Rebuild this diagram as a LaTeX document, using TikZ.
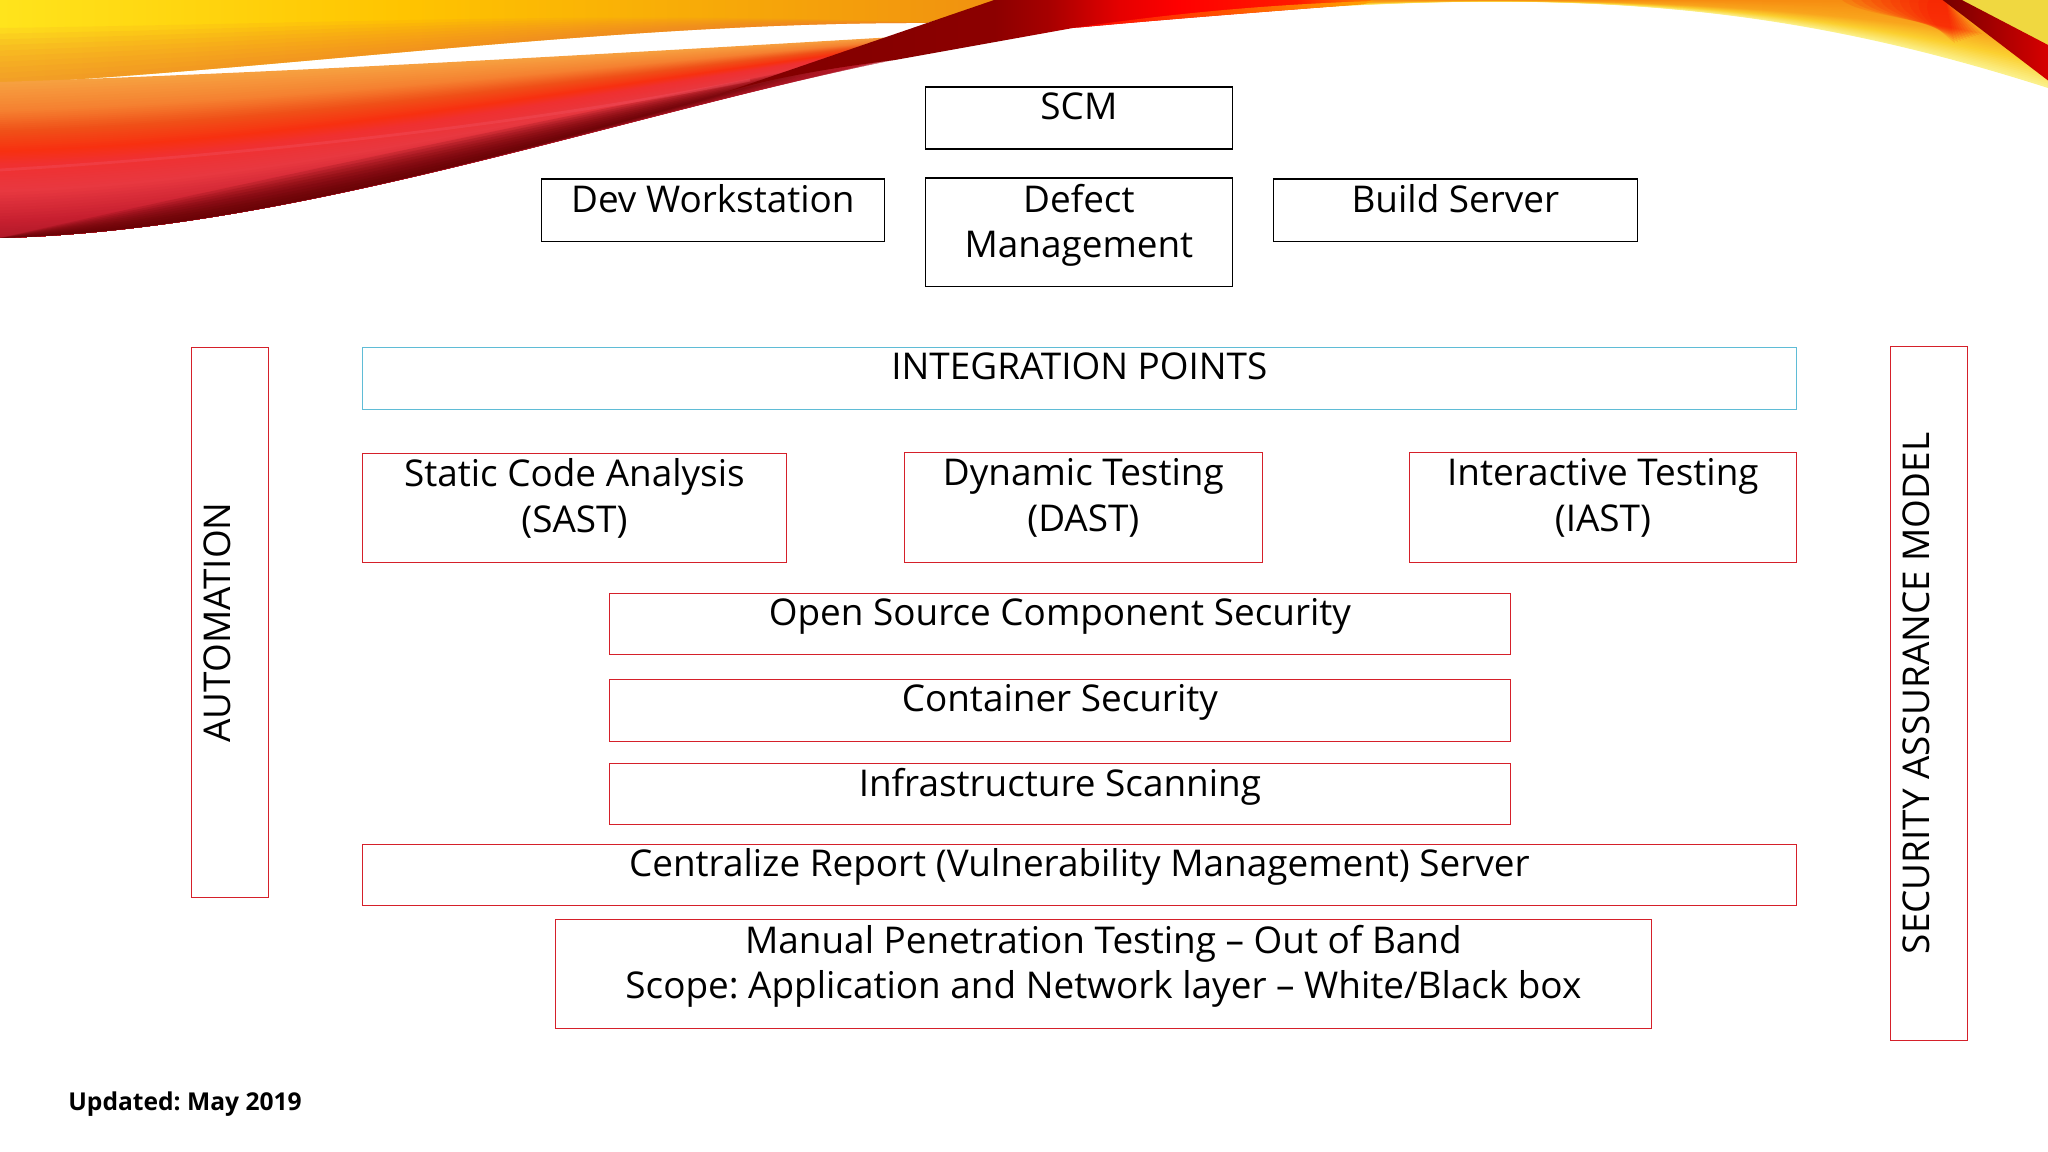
\documentclass[tikz,border=0pt]{standalone}
\usepackage{fontspec}
\setmainfont{Open Sans}
\frenchspacing
\usetikzlibrary{calc}

\definecolor{boxred}{HTML}{D5202A}
\definecolor{boxcyan}{HTML}{5FBCD6}

% lower ribbon, from the white gap to the outer edge
\definecolor{la}{HTML}{F6A040}
\definecolor{lb}{HTML}{F58030}
\definecolor{lc}{HTML}{F05018}
\definecolor{ld}{HTML}{F83010}
\definecolor{le}{HTML}{F03030}
\definecolor{lf}{HTML}{E83840}
\definecolor{lg}{HTML}{C82030}
\definecolor{lh}{HTML}{B01828}
\definecolor{dark}{HTML}{5A0000}
\definecolor{shine}{HTML}{F45868}

% top ribbon
\definecolor{ta}{HTML}{FFE41C}
\definecolor{tb}{HTML}{FFC400}
\definecolor{tc}{HTML}{F09010}
\definecolor{td}{HTML}{F08030}

% arc on the right, from its edge to the top
\definecolor{aa}{HTML}{FBF08A}
\definecolor{ab}{HTML}{FBD030}
\definecolor{ac}{HTML}{F9A41C}
\definecolor{ad}{HTML}{F68A10}
\definecolor{corner}{HTML}{F0D840}

\pgfdeclarehorizontalshading{topshade}{100bp}{
    color(0bp)=(ta); color(25bp)=(ta);
    color(45bp)=(tb); color(75bp)=(tc); color(100bp)=(tc)}
\pgfdeclarehorizontalshading{wedgeshade}{100bp}{
    color(0bp)=(red!50!black); color(25bp)=(red!50!black);
    color(46bp)=(red!55!black); color(50bp)=(red!65!black); color(55.5bp)=(red!90!black);
    color(60bp)=(red); color(69bp)=(red!80!orange);
    color(75bp)=(orange); color(100bp)=(orange)}
\pgfdeclarehorizontalshading{streakshade}{100bp}{
    color(0bp)=(red!45!black); color(25bp)=(red!45!black);
    color(75bp)=(red!85!black); color(100bp)=(red!85!black)}

\tikzset{
    blackbox/.style={draw=black, line width=1pt, anchor=north west, inner sep=0pt, xshift=-0.01cm, yshift=0.01cm},
    redbox/.style={blackbox, draw=boxred},
    cyanbox/.style={blackbox, draw=boxcyan},
    boxtext/.style={anchor=north, align=center, inner sep=0pt, font=\fontsize{21}{26}\selectfont, text=black}
}

\begin{document}
\begin{tikzpicture}[x=0.02cm, y=-0.02cm]
    \useasboundingbox (0,0) rectangle (2048,1152);
    \clip (0,0) rectangle (2048,1152);

    % top ribbon
    \shade[shading=topshade]
        (0,-2) -- (1010,-2) -- (927,23)
        .. controls (620,22) and (300,68) .. (0,84) -- cycle;
    \foreach \i in {1,...,10} {
        \pgfmathsetmacro\t{\i/10}
        \fill[td, fill opacity=0.1]
            (0,84) .. controls (300,68) and (620,22) .. (927,23)
            .. controls (620,{22-12*\t}) and (300,{68-44*\t}) .. (0,{84-56*\t}) -- cycle;
    }

    % lower ribbon
    \foreach \ca/\cb/\ta/\tb in {la/lb/0/0.18, lb/lc/0.18/0.31, lc/ld/0.31/0.44, ld/le/0.44/0.53,
                                 le/lf/0.53/0.69, lf/lg/0.69/0.88, lg/lh/0.88/1} {
        \foreach \i in {0,...,9} {
            \pgfmathsetmacro\t{\ta+(\tb-\ta)*\i/10}
            \pgfmathsetmacro\m{10*\i}
            \fill[\cb!\m!\ca]
                (0,{82+156*\t}) .. controls (300,{72+158*\t}) and (620,{53+62*\t}) .. (895,{37+23*\t})
                .. controls (620,115) and (300,230) .. (0,238) -- cycle;
        }
    }
    \foreach \i in {0,...,9} {
        \pgfmathsetmacro\t{\i/10}
        \fill[dark, fill opacity=0.14]
            (0,238) .. controls (300,{170+60*\t}) and (620,{105+10*\t}) .. (895,{50+10*\t})
            .. controls (620,115) and (300,230) .. (0,238) -- cycle;
    }
    \draw[shine, line width=1.6pt, opacity=0.3]
        (0,170) .. controls (200,158) and (500,130) .. (750,80);

    % arc on the right
    \foreach \ca/\cb/\ta/\tb in {aa/ab/0/0.25, ab/ac/0.25/0.5, ac/ad/0.5/1} {
        \foreach \i in {0,...,9} {
            \pgfmathsetmacro\t{\ta+(\tb-\ta)*\i/10}
            \pgfmathsetmacro\m{10*\i}
            \pgfmathsetmacro\k{1-\t}
            \fill[\cb!\m!\ca]
                (1311,{8*\k}) .. controls (1620,{-12*\k}) and (1820,{15*\k}) .. (2048,{88*\k})
                -- (2048,-2) -- (1311,-2) -- cycle;
        }
    }
    \foreach \i in {1,...,10} {
        \fill[red, fill opacity=0.11]
            ({1940-10*\i},-2) -- (1945,-2) -- ({1952+3*\i},{44-1*\i})
            .. controls ({1935-5*\i},{25-1*\i}) and ({1930-8*\i},{10}) .. ({1940-10*\i},-2) -- cycle;
    }

    % yellow corner and streak
    \fill[corner] (1955,-2) -- (2050,-2) -- (2050,47) -- cycle;
    \shade[shading=streakshade]
        (1940,-2) -- (1958,-2) -- (2050,46) -- (2050,82) -- cycle;

    % wedge
    \shade[shading=wedgeshade]
        (720,94) -- (1000,-2) -- (1375,-2) -- (1364,4)
        .. controls (1290,10) and (1180,18) .. (1073,28)
        -- (895,60) .. controls (830,68) and (770,78) .. (720,94) -- cycle;
    \shade[left color=red, right color=orange!70!yellow]
        (1073,28) .. controls (1180,12) and (1280,4) .. (1375,1)
        -- (1364,4) .. controls (1290,10) and (1180,18) .. (1073,28) -- cycle;

    % tools
    \node[blackbox, minimum width=307*0.02cm, minimum height=62*0.02cm] (scm) at (925,87) {};
    \node[boxtext] (scm text) at ($(scm.north)+(0,6)$) {SCM};
    \node[blackbox, minimum width=343*0.02cm, minimum height=62*0.02cm] (dev) at (541,179) {};
    \node[boxtext] (dev text) at ($(dev.north)+(0,6)$) {Dev Workstation};
    \node[blackbox, minimum width=307*0.02cm, minimum height=108*0.02cm] (defect) at (925,178) {};
    \node[boxtext] (defect text) at ($(defect.north)+(0,6)$) {Defect\\Management};
    \node[blackbox, minimum width=364*0.02cm, minimum height=62*0.02cm] (build) at (1273,179) {};
    \node[boxtext] (build text) at ($(build.north)+(0,6)$) {Build Server};

    % integration
    \node[cyanbox, minimum width=1434*0.02cm, minimum height=62*0.02cm] (integration) at (362,347) {};
    \node[boxtext] (integration text) at ($(integration.north)+(0,6)$) {INTEGRATION POINTS};

    % testing
    \node[redbox, minimum width=424*0.02cm, minimum height=109*0.02cm] (sast) at (362,453) {};
    \node[boxtext] (sast text) at ($(sast.north)+(0,6)$) {Static Code Analysis\\(SAST)};
    \node[redbox, minimum width=358*0.02cm, minimum height=110*0.02cm] (dast) at (904,452) {};
    \node[boxtext] (dast text) at ($(dast.north)+(0,7)$) {Dynamic Testing\\(DAST)};
    \node[redbox, minimum width=387*0.02cm, minimum height=110*0.02cm] (iast) at (1409,452) {};
    \node[boxtext] (iast text) at ($(iast.north)+(0,7)$) {Interactive Testing\\(IAST)};

    % scanning
    \node[redbox, minimum width=901*0.02cm, minimum height=61*0.02cm] (open) at (609,593) {};
    \node[boxtext] (open text) at ($(open.north)+(0,6)$) {Open Source Component Security};
    \node[redbox, minimum width=901*0.02cm, minimum height=62*0.02cm] (container) at (609,679) {};
    \node[boxtext] (container text) at ($(container.north)+(0,6)$) {Container Security};
    \node[redbox, minimum width=901*0.02cm, minimum height=61*0.02cm] (infra) at (609,763) {};
    \node[boxtext] (infra text) at ($(infra.north)+(0,5)$) {Infrastructure Scanning};

    % report
    \node[redbox, minimum width=1434*0.02cm, minimum height=61*0.02cm] (report) at (362,844) {};
    \node[boxtext] (report text) at ($(report.north)+(0,5)$) {Centralize Report (Vulnerability Management) Server};
    \node[redbox, minimum width=1096*0.02cm, minimum height=109*0.02cm] (manual) at (555,919) {};
    \node[boxtext] (manual text) at ($(manual.north)+(0,6)$) {Manual Penetration Testing -- Out of Band\\Scope: Application and Network layer -- White/Black box};

    % sides
    \node[redbox, minimum width=77*0.02cm, minimum height=550*0.02cm] (automation) at (191,347) {};
    \node[boxtext, rotate=90] (automation text) at ($(automation.west)+(13,0)$) {AUTOMATION};
    \node[redbox, minimum width=77*0.02cm, minimum height=694*0.02cm] (model) at (1890,346) {};
    \node[boxtext, rotate=90] (model text) at ($(model.west)+(13,0)$) {SECURITY ASSURANCE MODEL};

    % date
    \node[anchor=west, inner sep=0pt, font=\fontsize{14}{18}\selectfont\bfseries] (updated) at (68,1104) {Updated: May 2019};
\end{tikzpicture}
\end{document}
